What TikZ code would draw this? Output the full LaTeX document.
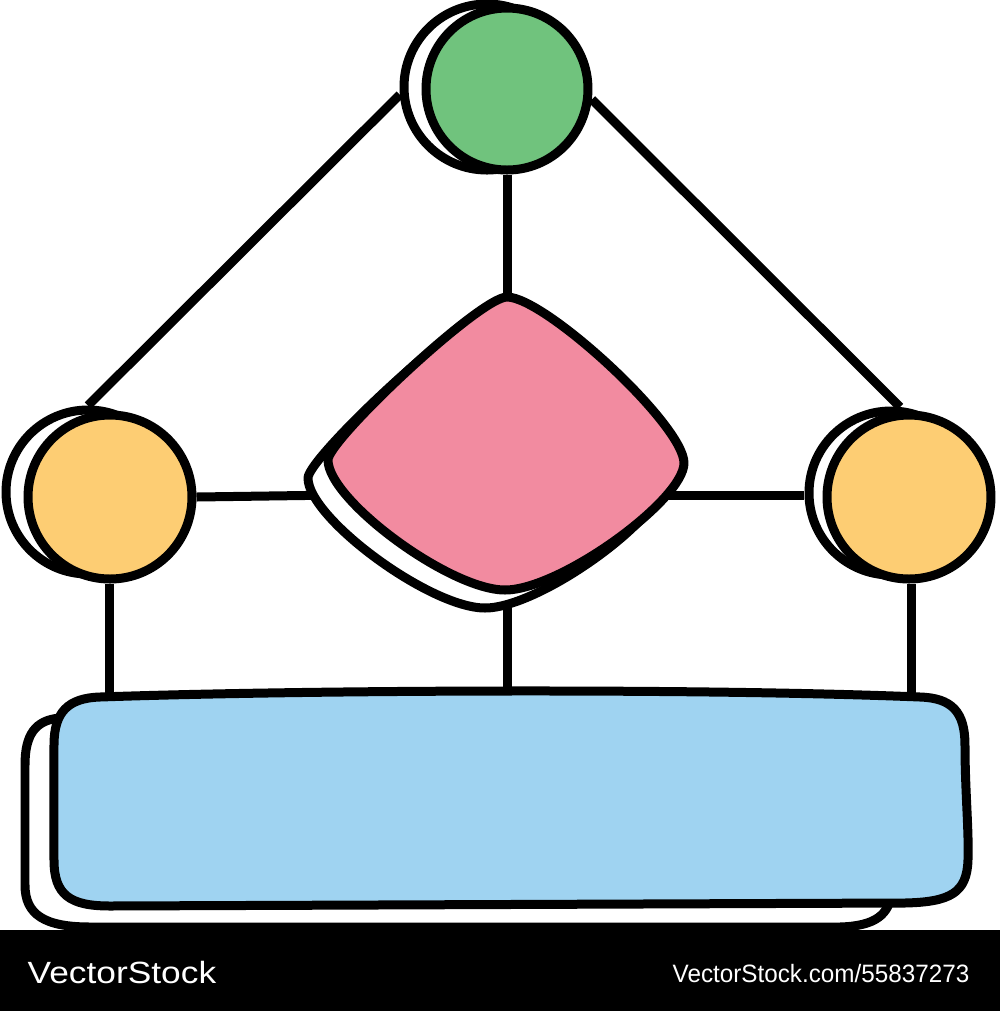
\documentclass[tikz,border=0pt]{standalone}
\usepackage{fontspec}
\newfontfamily\vsfont{Liberation Sans}
\definecolor{cgreen}{HTML}{70C37D}
\definecolor{cpink}{HTML}{F28BA0}
\definecolor{cyellow}{HTML}{FDCD73}
\definecolor{cblue}{HTML}{9FD3F1}
\pgfdeclarelayer{bg}
\pgfsetlayers{bg,main}
\begin{document}
\begin{tikzpicture}[x=0.1mm,y=-0.1mm,line join=round,line cap=round]
\tikzset{
  edge/.style={draw=black,line width=0.9mm},
  outline/.style={draw=black,line width=0.9mm},
  ring/.style={circle,draw=black,line width=0.9mm,inner sep=0pt,minimum size=#1},
  backfill/.style={fill=white},
  footertext/.style={text=white,inner sep=0pt,anchor=base west}
}
\useasboundingbox (0,0) rectangle (1000,1011);

% ---------- back (shadow) shapes ----------
\path[outline,backfill] (25,765) .. controls (25,735) and (35,720) .. (60,718)
  -- (880,718) -- (892,732) -- (892,890)
  .. controls (890,915) and (875,926) .. (840,927)
  -- (90,927) .. controls (45,927) and (25,915) .. (25,885) -- cycle;
\begin{scope}[shift={(-20,18)}]
\path[outline,backfill] (507,297) .. controls (545,297) and (684,425) .. (684,463)
  .. controls (684,500) and (560,590) .. (505,590)
  .. controls (450,590) and (328,500) .. (328,460)
  .. controls (328,440) and (480,297) .. (507,297) -- cycle;
\end{scope}
\node[ring=16.6mm,backfill] (gb)  at (487,87)  {};
\node[ring=16.4mm,backfill] (ylb) at (88,492)  {};
\node[ring=16.4mm,backfill] (yrb) at (891,493) {};

% ---------- front shapes ----------
\path[outline,fill=cblue] (54,745) .. controls (54,712) and (68,698) .. (100,697)
  .. controls (300,690) and (700,688) .. (920,697)
  .. controls (952,698) and (965,712) .. (965,745)
  .. controls (965,790) and (969,830) .. (968,860)
  .. controls (967,893) and (950,902) .. (905,903)
  -- (110,906) .. controls (70,906) and (54,895) .. (54,860) -- cycle;
\coordinate (rl) at (110,730);
\coordinate (rm) at (508,730);
\coordinate (rr) at (912,730);

\path[outline,fill=cpink] (507,297) .. controls (545,297) and (684,425) .. (684,463)
  .. controls (684,500) and (560,590) .. (505,590)
  .. controls (450,590) and (328,500) .. (328,460)
  .. controls (328,440) and (480,297) .. (507,297) -- cycle;
\coordinate (dtop) at (508,320);
\coordinate (dctr) at (508,460);
\coordinate (dleft) at (340,495);
\coordinate (dright) at (665,495);

\node[ring=16.2mm,fill=cgreen]  (gf) at (507,89)  {};
\node[ring=16.4mm,fill=cyellow] (yl) at (110,497) {};
\node[ring=16.4mm,fill=cyellow] (yr) at (909,497) {};

% ---------- connectors ----------
\begin{pgfonlayer}{bg}
\draw[edge] (gb.185) -- (ylb.north);
\draw[edge] (gf.-7) -- (yrb.84);
\draw[edge] (gf.south -| dtop) -- (dtop);
\draw[edge] (yl.east) -- (dleft);
\draw[edge] (dright) -- (yrb.west |- dright);
\draw[edge] (yl.south -| rl) -- (rl);
\draw[edge] (dctr) -- (rm);
\draw[edge] (yr.south -| rr) -- (rr);
\end{pgfonlayer}

% ---------- footer ----------
\fill[black] (0,930) rectangle (1000,1011);
\node[footertext,font=\vsfont\fontsize{8.74}{10}\selectfont] (logo) at (27,983)
  {\scalebox{1.15}[1]{VectorStock}};
\node[footertext,font=\vsfont\fontsize{7.15}{9}\selectfont] (url) at (672,982)
  {\scalebox{0.965}[1]{VectorStock.com/55837273}};
\end{tikzpicture}
\end{document}
